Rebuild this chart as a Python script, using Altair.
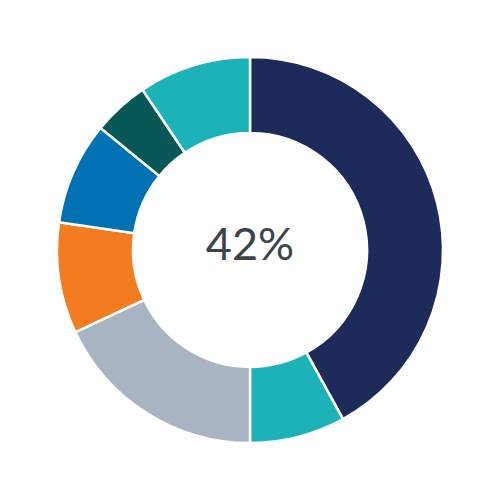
import altair as alt
import pandas as pd

categories = ["A", "B", "C", "D", "E", "F", "G"]
values = [42, 8, 18, 9.3, 8.6, 4.7, 9.4]
colors = ["#1c2b5a", "#1bb3b7", "#a9b4c2", "#f37c20", "#0072b4", "#075856", "#1bb3b7"]
center_label = "42%"

df = pd.DataFrame({"cat": categories, "value": values, "idx": list(range(len(categories)))})

arcs = alt.Chart(df).mark_arc(
    outerRadius=193, innerRadius=117, stroke="white", strokeWidth=2.5
).encode(
    theta=alt.Theta("value:Q", stack=True),
    order=alt.Order("idx:O"),
    color=alt.Color("cat:N", scale=alt.Scale(domain=categories, range=colors), legend=None),
)

text = alt.Chart(pd.DataFrame({"t": [center_label]})).mark_text(
    font="Lato", fontSize=45, fontWeight=400, color="#3d434b", baseline="middle", align="center"
).encode(
    text="t:N",
    x=alt.value(242),
    y=alt.value(238),
)

chart = alt.layer(arcs, text).properties(
    width=484, height=484, padding=0, autosize=alt.AutoSizeParams(type="none")
).configure_view(stroke=None)

chart.save("out.html", embed_options={"renderer": "svg", "actions": False})
